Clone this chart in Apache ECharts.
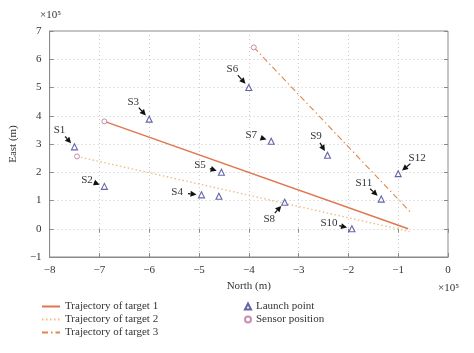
<!DOCTYPE html>
<html>
<head>
<meta charset="utf-8">
<script src="https://cdn.jsdelivr.net/npm/echarts@6/dist/echarts.min.js"></script>
<style>
  html, body { margin: 0; padding: 0; background: #fff; }
  #chart { width: 474px; height: 353px; }
</style>
</head>
<body>
<div id="chart"></div>
<script>
  // values in units of 1e5 m, as on the axes
  var xTicks = [-8, -7, -6, -5, -4, -3, -2, -1, 0]
  var yTicks = [-1, 0, 1, 2, 3, 4, 5, 6, 7]

  var target1 = [[-6.9, 3.8], [-0.8, 0.0]]
  var target2 = [[-7.45, 2.56], [-0.77, -0.1]]
  var target3 = [[-3.9, 6.42], [-0.75, 0.58]]

  var sensors = [[-6.9, 3.8], [-7.45, 2.56], [-3.9, 6.42]]

  var launchPoints = [
    [-7.5, 2.9], [-6.9, 1.5], [-6.0, 3.88], [-4.95, 1.2], [-4.55, 2.0], [-4.0, 5.0],
    [-3.55, 3.1], [-3.28, 0.94], [-2.42, 2.6], [-1.93, 0.0], [-1.34, 1.05], [-1.0, 1.95],
    [-4.6, 1.15]
  ]
  var launchNames = ['S1', 'S2', 'S3', 'S4', 'S5', 'S6', 'S7', 'S8', 'S9', 'S10', 'S11', 'S12']
  // where each name sits (same units)
  var labelPos = [
    [-7.8, 3.48], [-7.25, 1.73], [-6.32, 4.5], [-5.44, 1.28], [-4.98, 2.24], [-4.33, 5.65],
    [-3.95, 3.33], [-3.59, 0.34], [-2.65, 3.27], [-2.39, 0.2], [-1.69, 1.62], [-0.62, 2.5]
  ]

  var serif = 'Liberation Serif'
  var chart = echarts.init(document.getElementById('chart'))

  var annot = launchNames.map(function (n, i) {
    return [labelPos[i][0], labelPos[i][1], launchPoints[i][0], launchPoints[i][1], n]
  })

  function minus(v) { return v < 0 ? '\u2212' + (-v) : String(v) }

  var option = {
    backgroundColor: '#fff',
    animation: false,
    textStyle: { fontFamily: serif },
    grid: { left: 44, right: 26, top: 31, bottom: 96, show: true, borderColor: '#8a8a8a', borderWidth: 1 },
    xAxis: [
      {
        type: 'value', min: xTicks[0], max: xTicks[xTicks.length - 1], interval: 1,
        name: 'North (m)', nameLocation: 'middle', nameGap: 20,
        nameTextStyle: { fontFamily: serif, fontSize: 11, color: '#333' },
        axisLine: { show: true, onZero: false, lineStyle: { color: '#8a8a8a' } },
        axisTick: { inside: true, length: 4, lineStyle: { color: '#8a8a8a' } },
        axisLabel: { fontFamily: serif, fontSize: 11, color: '#333', margin: 8, formatter: minus },
        splitLine: { show: true, lineStyle: { color: '#c8c8c8', type: [1, 3] } }
      },
      {
        type: 'value', min: xTicks[0], max: xTicks[xTicks.length - 1], interval: 1, position: 'top',
        axisLine: { show: false }, axisLabel: { show: false }, splitLine: { show: false },
        axisTick: { inside: true, length: 4, lineStyle: { color: '#8a8a8a' } }
      }
    ],
    yAxis: [
      {
        type: 'value', min: yTicks[0], max: yTicks[yTicks.length - 1], interval: 1,
        name: 'East (m)', nameLocation: 'middle', nameGap: 22,
        nameTextStyle: { fontFamily: serif, fontSize: 11, color: '#333' },
        axisLine: { show: true, onZero: false, lineStyle: { color: '#8a8a8a' } },
        axisTick: { inside: true, length: 4, lineStyle: { color: '#8a8a8a' } },
        axisLabel: { fontFamily: serif, fontSize: 11, color: '#333', margin: 8, formatter: minus },
        splitLine: { show: true, lineStyle: { color: '#c8c8c8', type: [1, 3] } }
      },
      {
        type: 'value', min: yTicks[0], max: yTicks[yTicks.length - 1], interval: 1, position: 'right',
        axisLine: { show: false }, axisLabel: { show: false }, splitLine: { show: false },
        axisTick: { inside: true, length: 4, lineStyle: { color: '#8a8a8a' } }
      }
    ],
    legend: [
      {
        orient: 'vertical', left: 36, top: 296, itemWidth: 18, itemHeight: 10, itemGap: 2,
        textStyle: { fontFamily: serif, fontSize: 11, color: '#333' },
        itemStyle: { opacity: 0 },
        data: ['Trajectory of target 1', 'Trajectory of target 2', 'Trajectory of target 3']
      },
      {
        orient: 'vertical', left: 239, top: 296, itemWidth: 6, itemHeight: 6, itemGap: 2,
        textStyle: { fontFamily: serif, fontSize: 11, color: '#333' },
        data: ['Launch point', 'Sensor position']
      }
    ],
    graphic: [
      { type: 'text', left: 40, top: 10, style: { text: '\u00d710\u2075', font: '11px "Liberation Serif"', fill: '#333' } },
      { type: 'text', left: 438, top: 283, style: { text: '\u00d710\u2075', font: '11px "Liberation Serif"', fill: '#333' } }
    ],
    series: [
      {
        name: 'Trajectory of target 1', type: 'line', data: target1, symbol: 'none',
        lineStyle: { color: '#e07650', width: 1.4 }, itemStyle: { color: '#e07650' }
      },
      {
        name: 'Trajectory of target 2', type: 'line', data: target2, symbol: 'none',
        lineStyle: { color: '#e9c08a', width: 1.4, type: [1.5, 2.5] }, itemStyle: { color: '#e9c08a' }
      },
      {
        name: 'Trajectory of target 3', type: 'line', data: target3, symbol: 'none',
        lineStyle: { color: '#e0874a', width: 1.1, type: [6, 3, 1.5, 3] }, itemStyle: { color: '#e0874a' }
      },
      {
        name: 'Launch point', type: 'scatter', data: launchPoints, symbol: 'triangle', symbolSize: 6,
        itemStyle: { color: '#fff', borderColor: '#3d3d96', borderWidth: 1.1 }, z: 4
      },
      {
        name: 'Sensor position', type: 'scatter', data: sensors, symbol: 'circle', symbolSize: 5,
        itemStyle: { color: '#fff', borderColor: '#b9739e', borderWidth: 1 }, z: 4
      },
      {
        type: 'custom', data: annot, silent: true, z: 5,
        renderItem: function (params, api) {
          var p = api.coord([api.value(0), api.value(1)])
          var q = api.coord([api.value(2), api.value(3)])
          var dx = q[0] - p[0], dy = q[1] - p[1]
          var len = Math.sqrt(dx * dx + dy * dy)
          var ux = dx / len, uy = dy / len
          var r = 1 / Math.sqrt((ux / 11) * (ux / 11) + (uy / 7) * (uy / 7))
          var a = [p[0] + ux * r, p[1] + uy * r]
          var b = [q[0] - ux * 5, q[1] - uy * 5]
          var h = 6, w = 3
          var base = [b[0] - ux * h, b[1] - uy * h]
          return {
            type: 'group',
            children: [
              { type: 'text', style: { text: annot[params.dataIndex][4], x: p[0], y: p[1],
                  align: 'center', verticalAlign: 'middle', font: '11px "Liberation Serif"', fill: '#333' } },
              { type: 'line', shape: { x1: a[0], y1: a[1], x2: base[0], y2: base[1] },
                style: { stroke: '#111', lineWidth: 1.2 } },
              { type: 'polygon', shape: { points: [b, [base[0] - uy * w, base[1] + ux * w], [base[0] + uy * w, base[1] - ux * w]] },
                style: { fill: '#111' } }
            ]
          }
        }
      }
    ]
  }
  chart.setOption(option)
</script>
</body>
</html>
